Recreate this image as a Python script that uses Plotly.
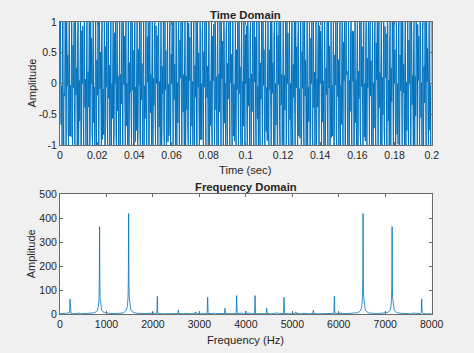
import numpy as np
import plotly.graph_objects as go

# ---- Time-domain tone parameters (DTMF pair, clipped at +/-1)
fs_hz = 8000
duration_s = 0.2
tone_freqs_hz = [852, 1477]
tone_amps = [1.0, 1.0]
clip_level = 1.0

# ---- Frequency-domain spectrum
freq_hz = [0, 60, 120, 195, 205, 215, 225, 240, 300, 345, 360, 420, 440, 560, 652, 735, 775, 805, 827, 840, 846, 852, 858, 864, 877, 899, 929, 950, 960, 969, 1052, 1150, 1240, 1250, 1260, 1277, 1360, 1400, 1430, 1452, 1465, 1471, 1477, 1483, 1489, 1502, 1524, 1554, 1594, 1677, 1800, 1930, 1940, 1950, 1990, 2000, 2010, 2085, 2095, 2105, 2200, 2320, 2440, 2537, 2547, 2557, 2650, 2727, 2800, 2890, 2900, 2910, 2930, 2945, 3050, 3168, 3178, 3188, 3300, 3320, 3340, 3450, 3541, 3551, 3561, 3650, 3660, 3670, 3792, 3802, 3812, 3910, 3950, 3990, 4000,
           4010, 4090, 4100, 4188, 4198, 4208, 4330, 4340, 4350, 4439, 4449, 4459, 4550, 4660, 4680, 4700, 4812, 4822, 4832, 4950, 5055, 5070, 5090, 5100, 5110, 5200, 5273, 5350, 5443, 5453, 5463, 5560, 5680, 5800, 5895, 5905, 5915, 5990, 6000, 6010, 6050, 6060, 6070, 6200, 6323, 6406, 6446, 6476, 6498, 6511, 6517, 6523, 6529, 6535, 6548, 6570, 6600, 6640, 6723, 6740, 6750, 6760, 6850, 6948, 7031, 7040, 7050, 7071, 7101, 7123, 7136, 7142, 7148, 7154, 7160, 7173, 7195, 7225, 7265, 7348, 7440, 7560, 7580, 7640, 7655, 7760, 7775, 7785, 7795, 7805, 7880, 7940, 8000]
amp_vals = [2, 3, 2, 3, 6, 64, 6, 3, 2, 4, 2, 5, 2, 3, 4, 6, 10, 16, 32, 65, 130, 365, 130, 65, 32, 16, 10, 7, 10, 7, 4, 3, 3, 6, 3, 4, 6, 11, 18, 36, 75, 150, 420, 150, 75, 36, 18, 11, 7, 4, 3, 3, 7, 3, 4, 9, 4, 4, 75, 4, 2, 3, 2, 3, 18, 3, 2, 4, 2, 3, 7, 3, 10, 3, 2, 3, 71, 3, 3, 6, 3, 2, 3, 25, 3, 2, 5, 2, 3, 78, 3, 5, 2, 3, 14,
            3, 5, 2, 3, 78, 3, 2, 5, 2, 3, 25, 3, 2, 3, 6, 3, 3, 71, 3, 2, 3, 10, 3, 7, 3, 2, 4, 2, 3, 18, 3, 2, 3, 2, 4, 75, 4, 4, 9, 4, 3, 7, 3, 3, 4, 7, 11, 18, 36, 75, 150, 420, 150, 75, 36, 18, 11, 6, 4, 3, 6, 3, 3, 4, 7, 10, 7, 10, 16, 32, 65, 130, 365, 130, 65, 32, 16, 10, 6, 4, 3, 2, 5, 4, 2, 3, 6, 64, 6, 3, 2, 3, 2]

time_ticks = [0, 0.02, 0.04, 0.06, 0.08, 0.1, 0.12, 0.14, 0.16, 0.18, 0.2]
time_tick_labels = ["0", "0.02", "0.04", "0.06", "0.08", "0.1", "0.12", "0.14", "0.16", "0.18", "0.2"]
amp_ticks = [-1, -0.5, 0, 0.5, 1]
amp_tick_labels = ["-1", "-0.5", "0", "0.5", "1"]
freq_ticks = [0, 1000, 2000, 3000, 4000, 5000, 6000, 7000, 8000]
spec_ticks = [0, 100, 200, 300, 400, 500]

t = np.arange(0, duration_s + 0.5 / fs_hz, 1 / fs_hz)
sig = np.zeros_like(t)
for f, a in zip(tone_freqs_hz, tone_amps):
    sig += a * np.sin(2 * np.pi * f * t)
sig = np.clip(sig, -clip_level, clip_level)

W, H = 474, 353
x0, x1 = 60 / W, 431.7 / W
top_dom = [1 - 145 / H, 1 - 22 / H]
bot_dom = [1 - 314.3 / H, 1 - 194.3 / H]

BLUE = "#0072BD"
AX = "#6a6a6a"
TXT = "#262626"
FONT = "Liberation Sans, Arial, Helvetica, sans-serif"

fig = go.Figure()
fig.add_trace(go.Scatter(x=t, y=sig, mode="lines", line=dict(color=BLUE, width=1),
                         xaxis="x", yaxis="y", showlegend=False, hoverinfo="skip"))
fig.add_trace(go.Scatter(x=freq_hz, y=amp_vals, mode="lines", line=dict(color=BLUE, width=0.8),
                         xaxis="x2", yaxis="y2", showlegend=False, hoverinfo="skip"))

common = dict(showline=True, linecolor=AX, linewidth=1, mirror="ticks", ticks="inside",
              ticklen=3, tickcolor=AX, showgrid=False, zeroline=False, automargin=False,
              tickfont=dict(family=FONT, size=10.5, color=TXT))

fig.update_layout(
    width=W, height=H, autosize=False, showlegend=False,
    margin=dict(l=0, r=0, t=0, b=0, pad=0, autoexpand=False),
    paper_bgcolor="#f0f0f0", plot_bgcolor="white",
    xaxis=dict(domain=[x0, x1], range=[0, 0.2], tickvals=time_ticks, ticktext=time_tick_labels,
               anchor="y", **common),
    yaxis=dict(domain=top_dom, range=[-1, 1], tickvals=amp_ticks, ticktext=amp_tick_labels,
               anchor="x", **common),
    xaxis2=dict(domain=[x0, x1], range=[0, 8000], tickvals=freq_ticks, anchor="y2", **common),
    yaxis2=dict(domain=bot_dom, range=[0, 500], tickvals=spec_ticks, anchor="x2", **common),
)

ann = [
    dict(text="<b>Time Domain</b>", x=(x0 + x1) / 2, y=1 - 15 / H, size=11.3),
    dict(text="Time (sec)", x=(x0 + x1) / 2, y=1 - 170 / H, size=11.2),
    dict(text="<b>Frequency Domain</b>", x=(x0 + x1) / 2, y=1 - 187 / H, size=11.3),
    dict(text="Frequency (Hz)", x=(x0 + x1) / 2, y=1 - 340 / H, size=11.2),
]
for a in ann:
    fig.add_annotation(text=a["text"], x=a["x"], y=a["y"], xref="paper", yref="paper",
                       showarrow=False, xanchor="center", yanchor="middle",
                       font=dict(family=FONT, size=a["size"], color=TXT))
for yc in [83.5, 254.3]:
    fig.add_annotation(text="Amplitude", x=31 / W, y=1 - yc / H, xref="paper", yref="paper",
                       showarrow=False, xanchor="center", yanchor="middle", textangle=-90,
                       font=dict(family=FONT, size=11, color=TXT))

fig.write_html("out.html")
